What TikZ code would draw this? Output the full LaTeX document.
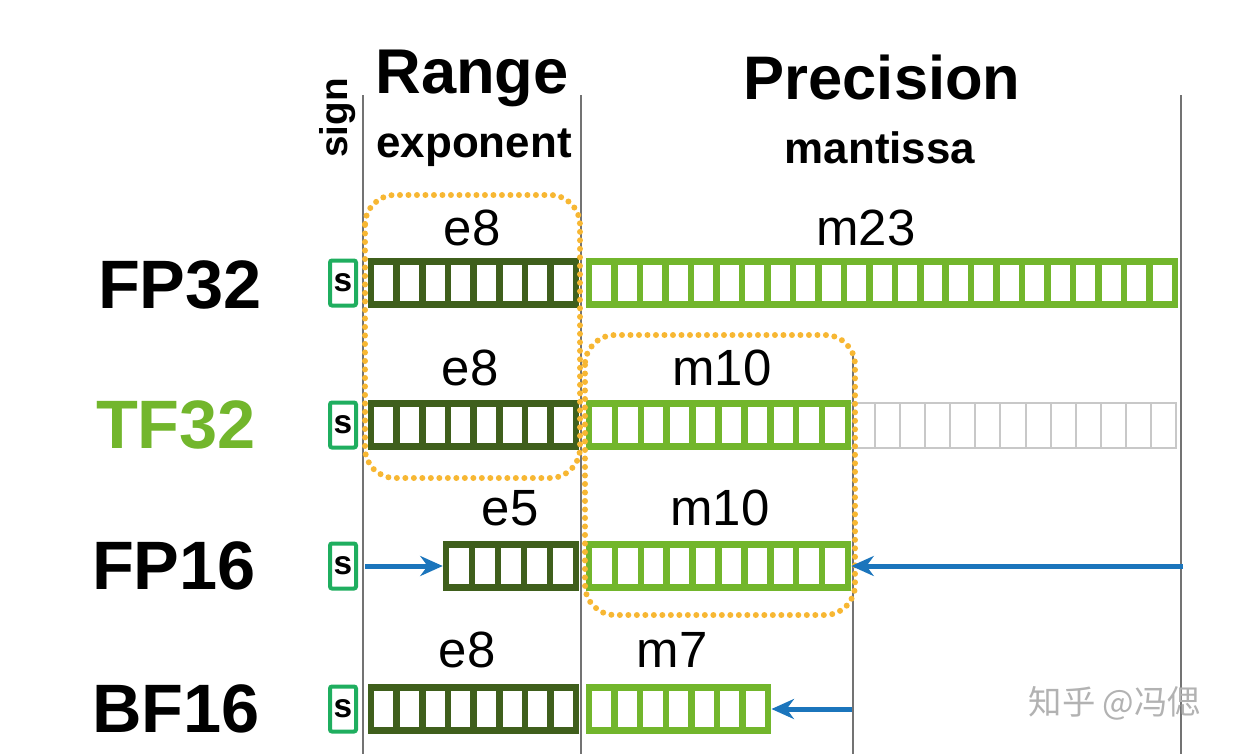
\documentclass[tikz,border=0pt]{standalone}
\usepackage{fontspec}
\setmainfont{Liberation Sans}
\newfontfamily\cjk{Noto Sans CJK SC}
\usetikzlibrary{arrows.meta}
\definecolor{dg}{HTML}{3F5F1C}
\definecolor{lg}{HTML}{72B62C}
\definecolor{sg}{HTML}{1FAE5F}
\definecolor{og}{HTML}{F7B733}
\definecolor{bl}{HTML}{1B75BC}
\definecolor{gl}{HTML}{C8C8C8}
\newcommand\blk[6]{%
  \node[draw=#6,line width=0.13cm,fill=white,minimum width={#4*#5*0.02cm},minimum height=0.86cm,inner sep=0pt] (#1) at ({#2+#4*#5/2},#3) {};
  \foreach \i in {1,...,\numexpr#4-1\relax} \draw[#6,line width=0.13cm] ({#2+\i*#5},#3-21) -- ++(0,42);}
\begin{document}
\begin{tikzpicture}[x=0.02cm,y=-0.02cm,
  vline/.style={draw=black!55,line width=0.03cm},
  rowlab/.style={font=\bfseries\fontsize{39}{39}\selectfont},
  lab/.style={font=\fontsize{29}{29}\selectfont},
  sbox/.style={draw=sg,line width=0.08cm,rounded corners=0.04cm,minimum width=0.52cm,minimum height=0.9cm,inner sep=0pt,font=\bfseries\fontsize{19}{19}\selectfont},
  dotbox/.style={draw=og,line width=0.12cm,line cap=round,dash pattern=on 0pt off 0.17cm,rounded corners=0.6cm},
  arr/.style={draw=bl,line width=0.1cm,-{Stealth[length=0.45cm,width=0.4cm]}}]
\useasboundingbox (0,0) rectangle (1246,754);
% column lines
\draw[vline] (363,95) coordinate (l1) -- (363,754);
\draw[vline] (581,95) -- (581,754);
\draw[vline] (853,355) -- (853,754);
\draw[vline] (1181,95) -- (1181,754);
% headers
\node[font=\bfseries\fontsize{36}{36}\selectfont] (hr) at (472,78) {Range};
\node[font=\bfseries\fontsize{35}{35}\selectfont] (hp) at (882,78) {Precision};
\node[font=\bfseries\fontsize{25}{25}\selectfont] (he) at (474,148) {exponent};
\node[font=\bfseries\fontsize{25}{25}\selectfont] (hm) at (880,148) {mantissa};
\node[font=\bfseries\fontsize{22}{22}\selectfont,rotate=90] (hs) at (338,118) {sign};
% row labels
\node[rowlab] (r1) at (180,285) {FP32};
\node[rowlab,text=lg] (r2) at (176,425) {TF32};
\node[rowlab] (r3) at (174,566) {FP16};
\node[rowlab] (r4) at (176,709) {BF16};
% FP32
\node[sbox] (s1) at (343,283) {s};
\blk{e1}{371}{283}{8}{25.65}{dg}
\blk{m1}{589}{283}{23}{25.48}{lg}
% TF32
\node[sbox] (s2) at (343,425) {s};
\blk{e2}{371}{425}{8}{25.65}{dg}
\node[draw=gl,line width=0.04cm,minimum width={13*25.08*0.02cm},minimum height=0.9cm,inner sep=0pt] (g2) at ({850+13*25.08/2},425) {};
\foreach \i in {1,...,12} \draw[gl,line width=0.04cm] ({850+\i*25.08},403) -- ++(0,44);
\blk{m2}{589}{425}{10}{25.9}{lg}
% FP16
\node[sbox] (s3) at (343,566) {s};
\blk{e3}{446}{566}{5}{26}{dg}
\blk{m3}{589}{566}{10}{25.9}{lg}
% BF16
\node[sbox] (s4) at (343,709) {s};
\blk{e4}{371}{709}{8}{25.65}{dg}
\blk{m4}{589}{709}{7}{25.6}{lg}
% labels
\node[lab] (le1) at (472,228) {e8};
\node[lab] (lm1) at (866,228) {m23};
\node[lab] (le2) at (470,368) {e8};
\node[lab] (lm2) at (722,368) {m10};
\node[lab] (le3) at (510,508) {e5};
\node[lab] (lm3) at (720,508) {m10};
\node[lab] (le4) at (467,650) {e8};
\node[lab] (lm4) at (672,650) {m7};
% dotted boxes
\draw[dotbox] (365,195) rectangle (580,478);
\draw[dotbox] (585,335) rectangle (855,615);
% arrows
\coordinate (a1) at (365,566);
\coordinate (a2) at (1183,566);
\coordinate (a3) at (852,709);
\draw[arr] (a1) -- (e3.west);
\draw[arr] (a2) -- (m3.east);
\draw[arr] (a3) -- (m4.east);
% watermark
\node[font=\cjk\fontsize{19}{19}\selectfont,text=black!30] (wm) at (1115,703) {知乎 @冯偲};
\end{tikzpicture}
\end{document}
